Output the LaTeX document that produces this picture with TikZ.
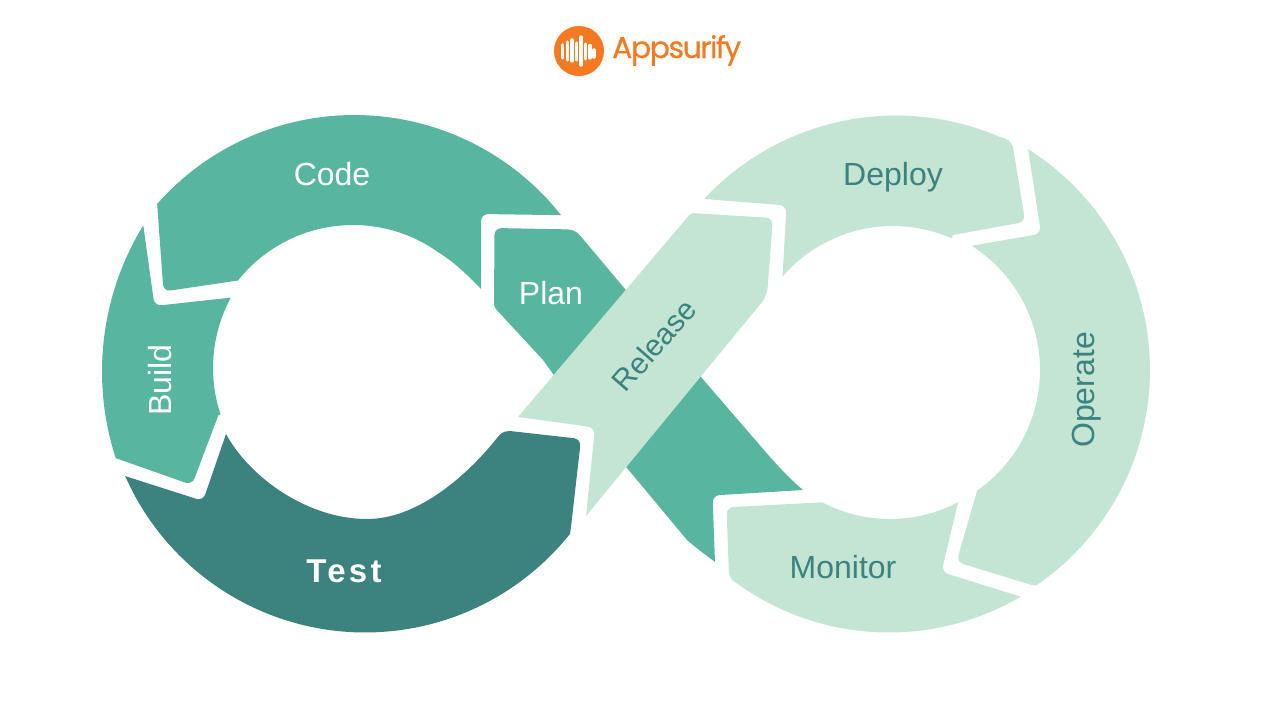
\documentclass[tikz,border=0pt]{standalone}
\usepackage{fontspec}
\setmainfont{Liberation Sans}
\newfontfamily\logofont[LetterSpace=-5,FakeBold=0.6]{Poppins}
\newfontfamily\testfont[LetterSpace=10]{Liberation Sans}

\begin{document}
\begin{tikzpicture}[
    x=1pt,
    y=-1pt,
    mid seg/.style={fill=mid green},
    dark seg/.style={fill=dark green},
    light seg/.style={fill=light green},
    light label/.style={text=white,anchor=base,font=\fontsize{32}{36}\selectfont},
    dark label/.style={text=dark green,anchor=base,font=\fontsize{32}{36}\selectfont},
    side label/.style={text=#1,font=\fontsize{32}{36}\selectfont},
    bar line/.style={white,line width=3.4pt,line cap=round}
]
\definecolor{mid green}{HTML}{58B5A0}
\definecolor{dark green}{HTML}{3C827E}
\definecolor{light green}{HTML}{C4E4D4}
\definecolor{logo orange}{HTML}{F47920}

\useasboundingbox (0,0) rectangle (1281,720);

% Plan band, passes under Release
\fill[mid seg] (625,289) -- (770,457) .. controls (780,468) and (790,479) .. (803,490)
    [rounded corners=7pt] -- (712.5,495.5) [sharp corners] -- (715,562)
    .. controls (703,553) and (695,547) .. (687,540) -- (627,468) -- (556,378) -- (543,360)
    [rounded corners=3pt] -- (494,307) [rounded corners=7pt] -- (494.5,228) -- (575,229.5) [sharp corners] -- cycle;

% Code
\fill[mid seg] plot[smooth,domain=221.5:321.7,samples=25] ({354.4+263.4*cos(\x)},{378.4+263.4*sin(\x)})
    [rounded corners=7pt] -- (481,214) [sharp corners] -- (481,289)
    .. controls (465,272) and (452,261) .. (439.4,253)
    -- plot[smooth,domain=306:218.5,samples=25] ({353+147*cos(\x)},{372+147*sin(\x)})
    [rounded corners=7pt] -- (163.5,291.5) [sharp corners] -- cycle;

% Build
\fill[mid seg] plot[smooth,domain=211.5:162,samples=20] ({382+280*cos(\x)},{371.6+280*sin(\x)})
    [rounded corners=7pt] -- (192,485) [sharp corners] -- (218.5,415)
    -- plot[smooth,domain=161.7:208.4,samples=15] ({361+148*cos(\x)},{368+148*sin(\x)})
    [rounded corners=7pt] -- (154.5,306) [sharp corners] -- cycle;

% Test
\fill[dark seg] plot[smooth,domain=156.2:38.6,samples=30] ({365.1+262.3*cos(\x)},{370.2+262.3*sin(\x)})
    -- (571,527) [rounded corners=7pt] -- (581,439) [sharp corners] -- (510,431)
    .. controls (503,431) and (500,434) .. (497,438)
    .. controls (470,472) and (420,519) .. (367,519)
    .. controls (308,519) and (250,478) .. (226,434)
    [rounded corners=7pt] -- (203,501) [sharp corners] -- cycle;

% Release
\fill[light seg] (518,417) [rounded corners=3pt] -- (691,213) [rounded corners=7pt] -- (773,218) [rounded corners=8pt] -- (767,296)
    [sharp corners] -- (586,516) [rounded corners=7pt] -- (595,427.5) [sharp corners] -- cycle;

% Deploy
\fill[light seg] plot[smooth,domain=223:293.3,samples=20] ({896+262.5*cos(\x)},{378+262.5*sin(\x)})
    [rounded corners=7pt] -- (1012,141) -- (1025.3,221.8) [sharp corners] -- (953,235)
    -- plot[smooth,domain=293.6:220.8,samples=20] ({893+146*cos(\x)},{372+146*sin(\x)})
    [rounded corners=7pt] -- (786.5,205.5) [sharp corners] -- cycle;

% Operate
\fill[light seg] plot[smooth,domain=-57.8:54.5,samples=30] ({889+261*cos(\x)},{370+261*sin(\x)})
    [rounded corners=3pt] -- (1035,586) [rounded corners=7pt] -- (956.5,562) [sharp corners] -- (977,491)
    -- plot[smooth,domain=55.2:-57.7,samples=30] ({893+147*cos(\x)},{370+147*sin(\x)})
    [rounded corners=7pt] -- (1041,233.7) [sharp corners] -- cycle;

% Monitor
\fill[light seg] plot[smooth,domain=59.6:126.9,samples=20] ({889+260.5*cos(\x)},{372+260.5*sin(\x)})
    [rounded corners=4pt] -- (729,576) [rounded corners=7pt] -- (726.5,507.3) [sharp corners] -- (823,502.3)
    -- plot[smooth,domain=117.4:62.2,samples=15] ({890+146*cos(\x)},{373+146*sin(\x)})
    [rounded corners=7pt] -- (941.5,572) [sharp corners] -- cycle;

% Labels
\node[light label] (code) at (332,185) {Code};
\node[light label] (plan) at (551,304) {Plan};
\node[side label=white,rotate=90] (build) at (160,380) {Build};
\node[text=white,anchor=base,font=\testfont\bfseries\fontsize{33}{36}\selectfont] (test) at (344,582.7) {Test};
\node[side label=dark green,rotate=49,font=\fontsize{30}{34}\selectfont] (release) at (654,345) {Release};
\node[dark label] (deploy) at (893,185) {Deploy};
\node[side label=dark green,rotate=90] (operate) at (1087,390) {Operate};
\node[dark label] (monitor) at (843,578) {Monitor};

% Logo
\fill[logo orange] (579,51) circle (25);
\foreach \x/\ytop/\ybot in {562.7/44.7/58,567.3/42/60,572/40/61,576.5/43/60,581/37/65,585.5/44/59,590/45.5/58,594/50/57}
    \draw[bar line] (\x,\ytop) -- (\x,\ybot);
\node[text=logo orange,font=\logofont\fontsize{30}{32}\selectfont,anchor=base west,inner sep=0pt] (logo) at (612,58) {Appsurify};

\end{tikzpicture}
\end{document}
